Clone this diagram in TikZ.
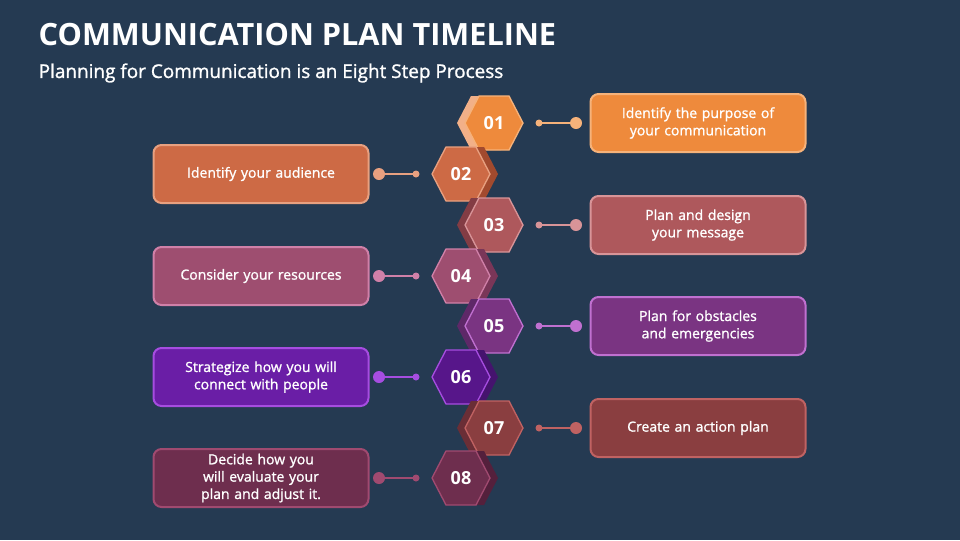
\documentclass[tikz,border=0pt]{standalone}
\usepackage{fontspec}
\setmainfont{Open Sans}
\newfontfamily\semi[FakeBold=1.2]{Open Sans}
\hyphenpenalty=10000
\usetikzlibrary{positioning}
\definecolor{bg}{HTML}{253A52}
\definecolor{cA}{HTML}{EE8A3C}\definecolor{bA}{HTML}{F6B27A}\definecolor{sA}{HTML}{F2B088}
\definecolor{cB}{HTML}{CD6A45}\definecolor{bB}{HTML}{E8A080}\definecolor{sB}{HTML}{A24A2E}
\definecolor{cC}{HTML}{AE585C}\definecolor{bC}{HTML}{D89498}\definecolor{sC}{HTML}{833C44}
\definecolor{cD}{HTML}{9E4E70}\definecolor{bD}{HTML}{D080A8}\definecolor{sD}{HTML}{7A3658}
\definecolor{cE}{HTML}{7A3482}\definecolor{bE}{HTML}{C070D0}\definecolor{sE}{HTML}{5E2868}
\definecolor{cF}{HTML}{57168A}\definecolor{bF}{HTML}{A64DE0}\definecolor{sF}{HTML}{45136E}
\definecolor{cG}{HTML}{8A3E40}\definecolor{bG}{HTML}{C06262}\definecolor{sG}{HTML}{6A2E36}
\definecolor{cH}{HTML}{6E2E4E}\definecolor{bH}{HTML}{A04A70}\definecolor{sH}{HTML}{54203C}
\definecolor{xA}{HTML}{EE8A3C}\definecolor{xB}{HTML}{CD6A45}\definecolor{xC}{HTML}{AE585C}
\definecolor{xD}{HTML}{9E4E70}\definecolor{xE}{HTML}{7A3482}\definecolor{xF}{HTML}{6A1EA6}
\definecolor{xG}{HTML}{8A3E40}\definecolor{xH}{HTML}{6E2E4E}
\tikzset{
  stepbox/.style={draw,line width=1.5pt,rounded corners=6pt,minimum width=215*0.75pt,
    minimum height=58*0.75pt,align=center,text=white,font=\semi\fontsize{10.5}{13}\selectfont,text width=140pt},
  hexnum/.style={text=white,font=\fontsize{13.5}{16}\selectfont\bfseries},
  dotline/.style={line width=1.2pt}
}
\newcommand{\hexpath}{(-29,0) -- (-15,-27) -- (15,-27) -- (29,0) -- (15,27) -- (-15,27) -- cycle}
\begin{document}
\begin{tikzpicture}[x=0.75pt,y=-0.75pt]
\useasboundingbox[fill=bg] (0,0) rectangle (960,540);
\node[anchor=west,text=white,font=\fontsize{23}{26}\selectfont\bfseries] (title) at (34,35) {COMMUNICATION PLAN TIMELINE};
\node[anchor=west,text=white,font=\semi\fontsize{14.2}{17}\selectfont] (subtitle) at (34,73) {Planning for Communication is an Eight Step Process};
% steps: y, hexagon x, side, colour letter, text
\foreach \y/\hx/\side/\c/\txt/\n in {
  123/494/1/A/{Identify the purpose of your communication}/01,
  174/461/-1/B/{Identify your audience}/02,
  225/494/1/C/{Plan and design your message}/03,
  276/461/-1/D/{Consider your resources}/04,
  326/494/1/E/{Plan for obstacles and emergencies}/05,
  377/461/-1/F/{Strategize how you will connect with people}/06,
  428/494/1/G/{Create an action plan}/07,
  478/461/-1/H/{Decide how you will evaluate your plan and adjust it.}/08}{
  \fill[s\c,shift={(\hx-\side*8,\y)}] \hexpath;
  \draw[fill=c\c,draw=b\c,line width=1pt,shift={(\hx,\y)}] \hexpath;
  \node[hexnum] (h\n) at (\hx,\y) {\n};
  \coordinate (p\n) at (\hx+\side*45,\y);
  \coordinate (q\n) at (\hx+\side*82,\y);
  \draw[dotline,b\c] (p\n) -- (q\n);
  \fill[b\c] (p\n) circle (3.5);
  \fill[b\c] (q\n) circle (6);
  \ifnum\side=1
    \node[stepbox,fill=x\c,draw=b\c] (t\n) at (698,\y) {\txt};
  \else
    \node[stepbox,fill=x\c,draw=b\c] (t\n) at (261,\y) {\txt};
  \fi
}
\end{tikzpicture}
\end{document}
